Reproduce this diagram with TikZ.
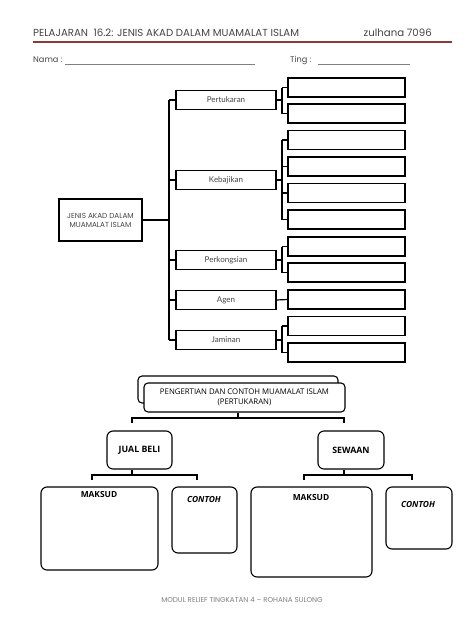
\documentclass[tikz,border=0pt]{standalone}
\usepackage{fontspec}
\setmainfont{Poppins}
\newfontfamily\catfont{Lato}
\newfontfamily\comicfont{Open Sans}
\definecolor{hdrred}{HTML}{8B3A3A}
\definecolor{txtgray}{HTML}{444444}
\begin{document}
\begin{tikzpicture}[x=1pt,y=-1pt,
  box/.style={draw=black,line width=1.2pt,inner sep=0pt,align=center},
  rbox/.style={box,minimum width=117pt,minimum height=19pt},
  cbox/.style={box,minimum width=100pt,minimum height=19pt,font=\catfont\fontsize{8}{9}\selectfont,text=txtgray},
  rnd/.style={draw=black,line width=1.1pt,rounded corners=6pt,inner sep=0pt,fill=white,align=center},
  conn/.style={line width=1.2pt},
  lbl/.style={font=\comicfont\bfseries\fontsize{8.4}{10}\selectfont},
  lbli/.style={font=\comicfont\bfseries\itshape\fontsize{8.4}{10}\selectfont}]
\useasboundingbox (0,0) rectangle (474,632);
% header
\node[anchor=west,text=txtgray,font=\fontsize{10.2}{12}\selectfont,inner sep=0pt] (hdr) at (33,33) {PELAJARAN\ \ 16.2: JENIS AKAD DALAM MUAMALAT ISLAM};
\node[anchor=east,text=txtgray,font=\fontsize{10.2}{12}\selectfont,inner sep=0pt] (zul) at (432,33) {zulhana 7096};
\draw[hdrred,line width=2pt] (33,42) -- (452,42);
\node[anchor=west,text=txtgray,font=\fontsize{8.2}{10}\selectfont,inner sep=0pt] (nama) at (33,60) {Nama :};
\draw[gray,line width=0.6pt] (65,64) -- (255,64);
\node[anchor=west,text=txtgray,font=\fontsize{8.2}{10}\selectfont,inner sep=0pt] (ting) at (290,60) {Ting :};
\draw[gray,line width=0.6pt] (318,64) -- (410,64);
% main
\node[box,minimum width=83pt,minimum height=42pt,font=\fontsize{7.3}{9}\selectfont,text=txtgray] (main) at (100.5,220) {JENIS AKAD DALAM\\MUAMALAT ISLAM};
\coordinate (trunk) at (169,220);
\coordinate (bx) at (282,0);
\node[cbox] (c1) at (226,100) {Pertukaran};
\node[cbox] (c2) at (226,180) {Kebajikan};
\node[cbox] (c3) at (226,260) {Perkongsian};
\node[cbox] (c4) at (226,300) {Agen};
\node[cbox] (c5) at (226,340) {Jaminan};
\foreach \i/\y in {1/87.5,2/113.5,3/140,4/166.5,5/193,6/219.5,7/246.5,8/272.5,9/299.5,10/326,11/352.5}
  \node[rbox] (r\i) at (346.5,\y) {};
\draw[conn] (main.east) -- (main.east -| trunk);
\draw[conn] (c1.west -| trunk) -- (c5.west -| trunk);
\foreach \c in {c1,c2,c3,c4,c5} \draw[conn] (\c.west -| trunk) -- (\c.west);
% branches
\draw[conn] (c1.east) -- (c1.east -| bx);
\draw[conn] (r1.west -| bx) -- (r2.west -| bx);
\draw[conn] (c2.east) -- (c2.east -| bx);
\draw[conn] (r3.west -| bx) -- (r6.west -| bx);
\draw[conn] (c3.east) -- (c3.east -| bx);
\draw[conn] (r7.west -| bx) -- (r8.west -| bx);
\draw[conn] (c4.east) -- (r9.west);
\draw[conn] (c5.east) -- (c5.east -| bx);
\draw[conn] (r10.west -| bx) -- (r11.west -| bx);
\foreach \r in {r1,r2,r3,r4,r5,r6,r7,r8,r10,r11} \draw[conn] (\r.west -| bx) -- (\r.west);
% lower section
\draw[line width=1.1pt,rounded corners=4pt] (138,376) rectangle (338,403);
\node[rnd,rounded corners=4pt,minimum width=201pt,minimum height=29pt,font=\comicfont\fontsize{7.8}{9.8}\selectfont] (pen) at (244.5,397.5) {PENGERTIAN DAN CONTOH MUAMALAT ISLAM\\(PERTUKARAN)};
\node[rnd,minimum width=65pt,minimum height=38pt,lbl,font=\comicfont\bfseries\fontsize{8.8}{10}\selectfont] (jual) at (139.5,450) {JUAL BELI};
\node[rnd,minimum width=66pt,minimum height=38pt,lbl,font=\comicfont\bfseries\fontsize{8.8}{10}\selectfont] (sew) at (351,450) {SEWAAN};
\coordinate (b1) at (238,418);
\draw[conn] (pen.south -| b1) -- (b1);
\coordinate (b1l) at (132,418);
\coordinate (b1r) at (344,418);
\draw[conn] (b1l) ++(0,5) -- (b1l) -- (b1r) -- ++(0,5);
% boxes under
\node[rnd,minimum width=117pt,minimum height=83pt] (m1) at (99.5,528.5) {};
\node[rnd,minimum width=65pt,minimum height=66pt] (k1) at (204.5,520) {};
\node[rnd,minimum width=121pt,minimum height=90pt] (m2) at (311.5,532) {};
\node[rnd,minimum width=66pt,minimum height=62pt] (k2) at (419,518) {};
\node[lbl] (m1t) at (99,494) {MAKSUD};
\node[lbli] (k1t) at (204,499) {CONTOH};
\node[lbl] (m2t) at (311,497) {MAKSUD};
\node[lbli] (k2t) at (418,504) {CONTOH};
\coordinate (j1) at (132,475);
\draw[conn] (jual.south -| j1) -- (j1);
\draw[conn] (92,480) -- (92,475) -- (197,475) -- (197,480);
\coordinate (s1) at (344,475);
\draw[conn] (sew.south -| s1) -- (s1);
\draw[conn] (304,480) -- (304,475) -- (412,475) -- (412,480);
% footer
\node[text=gray,font=\fontsize{7.1}{8}\selectfont,inner sep=0pt] (foot) at (242,600) {MODUL RELIEF TINGKATAN 4 -- ROHANA SULONG};
\end{tikzpicture}
\end{document}
